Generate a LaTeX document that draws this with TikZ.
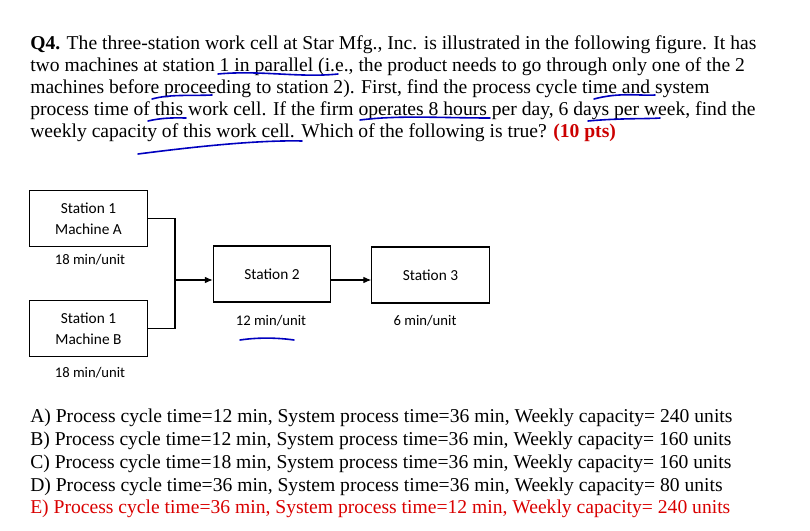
\documentclass[tikz,border=0pt]{standalone}
\usepackage{fontspec}
\setmainfont{Liberation Serif}
\newfontfamily\boxfont{Carlito}
\usetikzlibrary{arrows.meta}
\begin{document}
\begin{tikzpicture}[x=0.75pt,y=-0.75pt,
  txt/.style={anchor=west,inner sep=0,font=\fontsize{14.7}{16}\selectfont},
  stbox/.style={draw,line width=0.8pt,minimum width=88pt,minimum height=42pt,align=center,font=\boxfont\fontsize{11.5}{16}\selectfont},
  lbl/.style={font=\boxfont\fontsize{11}{12}\selectfont,inner sep=0},
  conn/.style={line width=0.8pt},
  arr/.style={line width=0.8pt,-{Latex[length=6pt,width=5pt]}},
  ink/.style={blue!75!black,line width=1.2pt,line cap=round}]
\useasboundingbox (0,0) rectangle (810,531);
\node[txt] (l1) at (30,45) {\textbf{Q4.} The three-station work cell at Star Mfg., Inc. is illustrated in the following figure. It has};
\node[txt] (l2) at (30,67) {two machines at station 1 in parallel (i.e., the product needs to go through only one of the 2};
\node[txt] (l3) at (30,89) {machines before proceeding to station 2). First, find the process cycle time and system};
\node[txt] (l4) at (30,111) {process time of this work cell. If the firm operates 8 hours per day, 6 days per week, find the};
\node[txt] (l5) at (30,133) {weekly capacity of this work cell. Which of the following is true? \textcolor{red!80!black}{\textbf{(10 pts)}}};

\node[stbox] (a) at (88.5,218.5) {Station 1\\Machine A};
\node[stbox] (b) at (88.5,328.5) {Station 1\\Machine B};
\node[stbox] (s2) at (272,274) {Station 2};
\node[stbox] (s3) at (430.5,275) {Station 3};
\node[lbl] (ta) at (90,260) {18 min/unit};
\node[lbl] (tb) at (90,373) {18 min/unit};
\node[lbl] (t2) at (271,321) {12 min/unit};
\node[lbl] (t3) at (425,321) {6 min/unit};
\coordinate (j1) at (175,218.5);
\coordinate (j2) at (175,328.5);
\coordinate (jm) at (175,280);
\draw[conn] (a.east) -- (j1) -- (j2) -- (b.east);
\draw[arr] (jm) -- (s2.west |- jm);
\draw[arr] (s2.east |- jm) -- (s3.west |- jm);

\node[txt] (o1) at (30,418) {A) Process cycle time=12 min, System process time=36 min, Weekly capacity= 240 units};
\node[txt] (o2) at (30,441) {B) Process cycle time=12 min, System process time=36 min, Weekly capacity= 160 units};
\node[txt] (o3) at (30,464) {C) Process cycle time=18 min, System process time=36 min, Weekly capacity= 160 units};
\node[txt] (o4) at (30,487) {D) Process cycle time=36 min, System process time=36 min, Weekly capacity= 80 units};
\node[txt,text=red!85!black] (o5) at (30,509) {E) Process cycle time=36 min, System process time=12 min, Weekly capacity= 240 units};

\draw[ink] (218,74) .. controls (260,70) and (300,78) .. (338,74);
\draw[ink] (152,99) .. controls (170,94) and (190,96) .. (212,95);
\draw[ink] (594,99) .. controls (620,92) and (640,96) .. (655,95);
\draw[ink] (148,121) .. controls (165,117) and (180,118) .. (186,118);
\draw[ink] (360,120) .. controls (400,115) and (440,118) .. (490,118);
\draw[ink] (588,121) .. controls (620,118) and (650,119) .. (660,118);
\draw[ink] (138,154) .. controls (200,146) and (260,140) .. (302,141);
\draw[ink] (240,340) .. controls (260,337) and (280,338) .. (294,340);
\end{tikzpicture}
\end{document}
